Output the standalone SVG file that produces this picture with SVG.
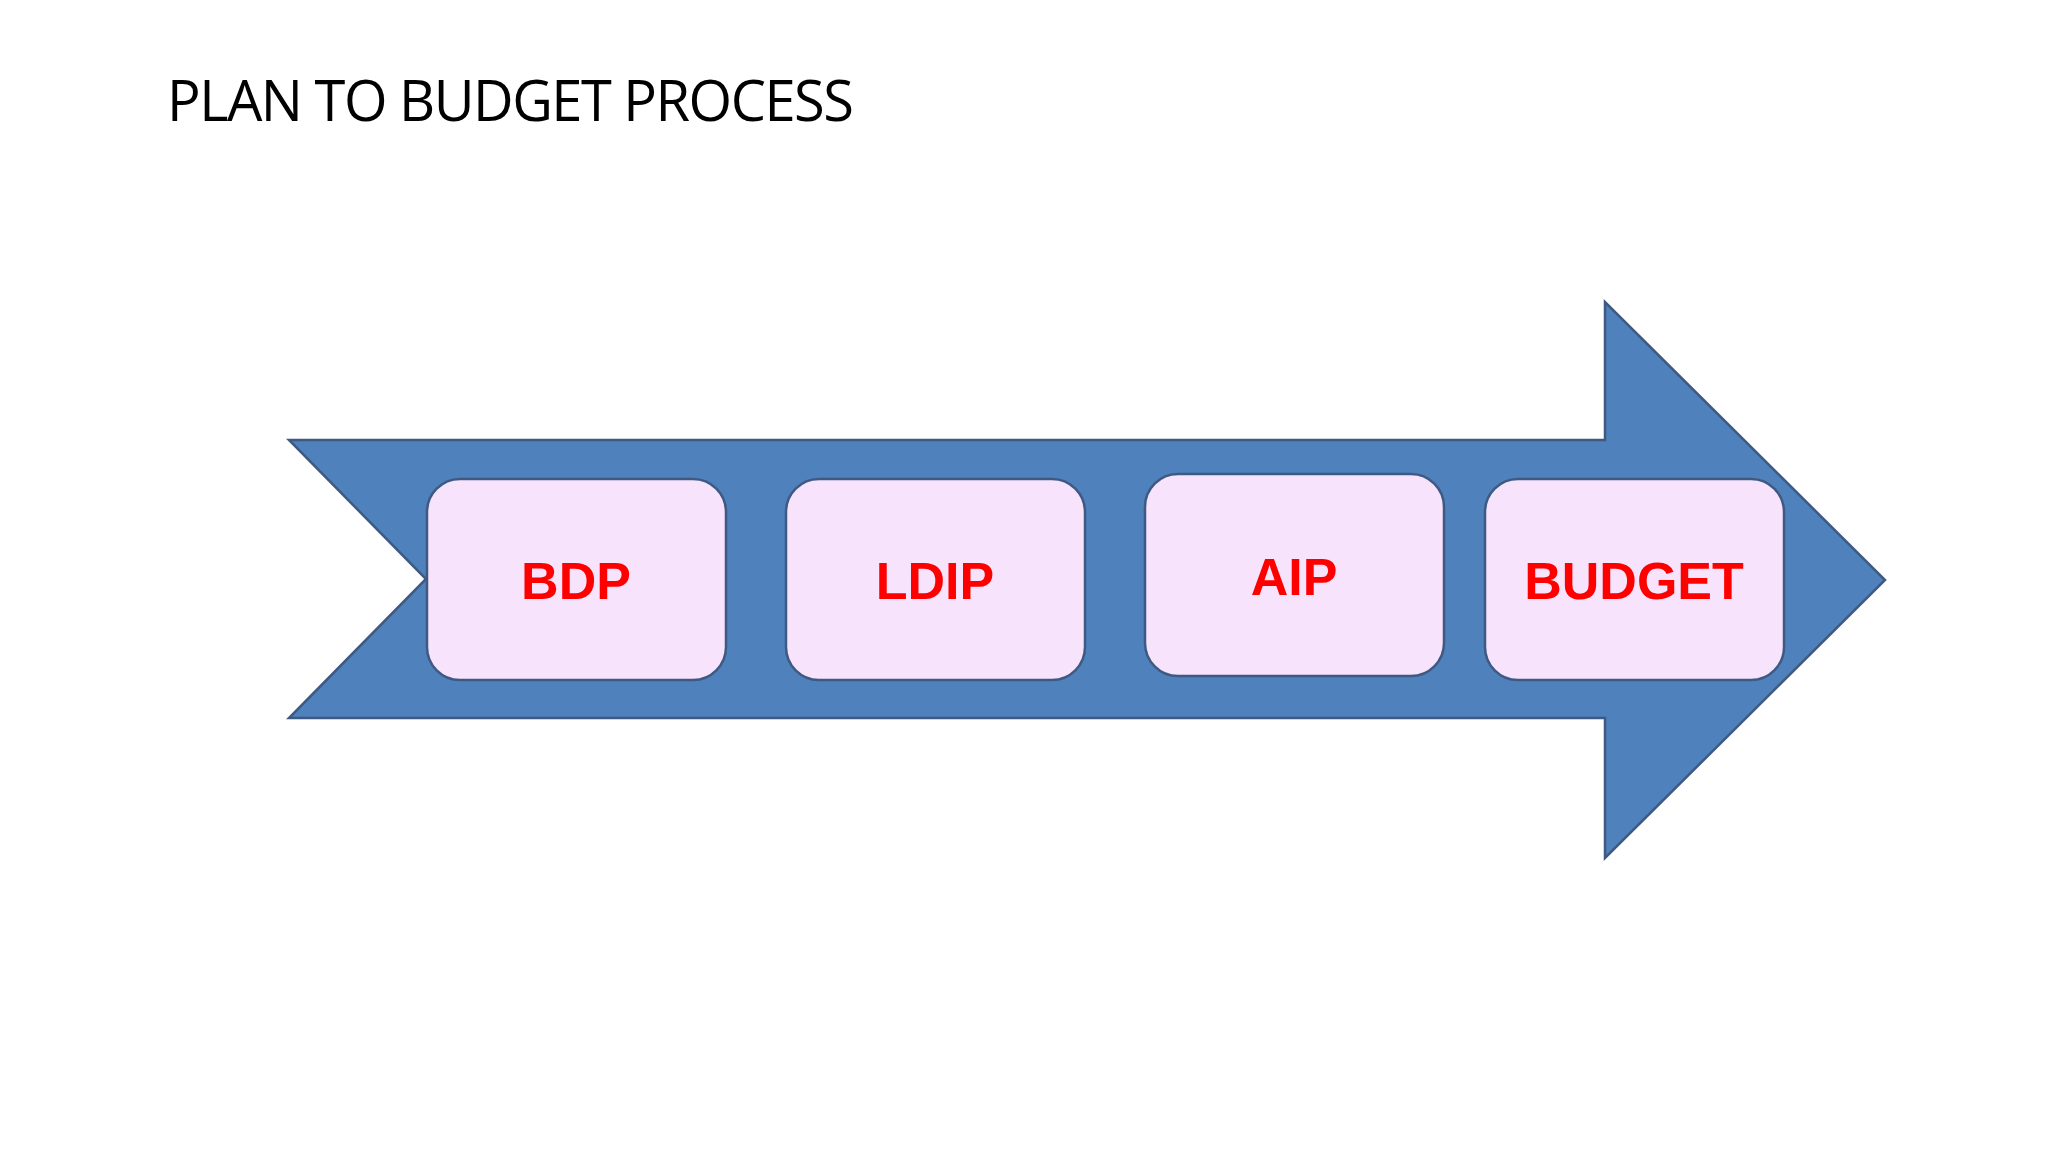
<svg xmlns="http://www.w3.org/2000/svg" width="2048" height="1152" viewBox="0 0 2048 1152">
<style>
.box{fill:#f7e3fb;stroke:#3e5a82;stroke-width:2.5}
.lbl{font-family:"Liberation Sans",Arial,sans-serif;font-weight:bold;font-size:52px;fill:#ff0000;text-anchor:middle}
</style>
<rect width="2048" height="1152" fill="#ffffff"/>
<text x="167" y="121" font-family="'Open Sans',sans-serif" font-size="56" fill="#000" textLength="687">PLAN TO BUDGET PROCESS</text>
<g id="arrow">
<path d="M289 440 L1605 440 L1605 302 L1885 580 L1605 858 L1605 718 L289 718 L426 579 Z" fill="#4f81bd" stroke="#3e5a82" stroke-width="2.5"/>
</g>
<g id="connectors"></g>
<g id="bdp"><rect class="box" x="427" y="479" width="299" height="201" rx="33"/><text class="lbl" x="576" y="599">BDP</text></g>
<g id="ldip"><rect class="box" x="786" y="479" width="299" height="201" rx="33"/><text class="lbl" x="935" y="599">LDIP</text></g>
<g id="aip"><rect class="box" x="1145" y="474" width="299" height="202" rx="33"/><text class="lbl" x="1294" y="595">AIP</text></g>
<g id="budget"><rect class="box" x="1485" y="479" width="299" height="201" rx="33"/><text class="lbl" x="1634" y="599">BUDGET</text></g>
</svg>
